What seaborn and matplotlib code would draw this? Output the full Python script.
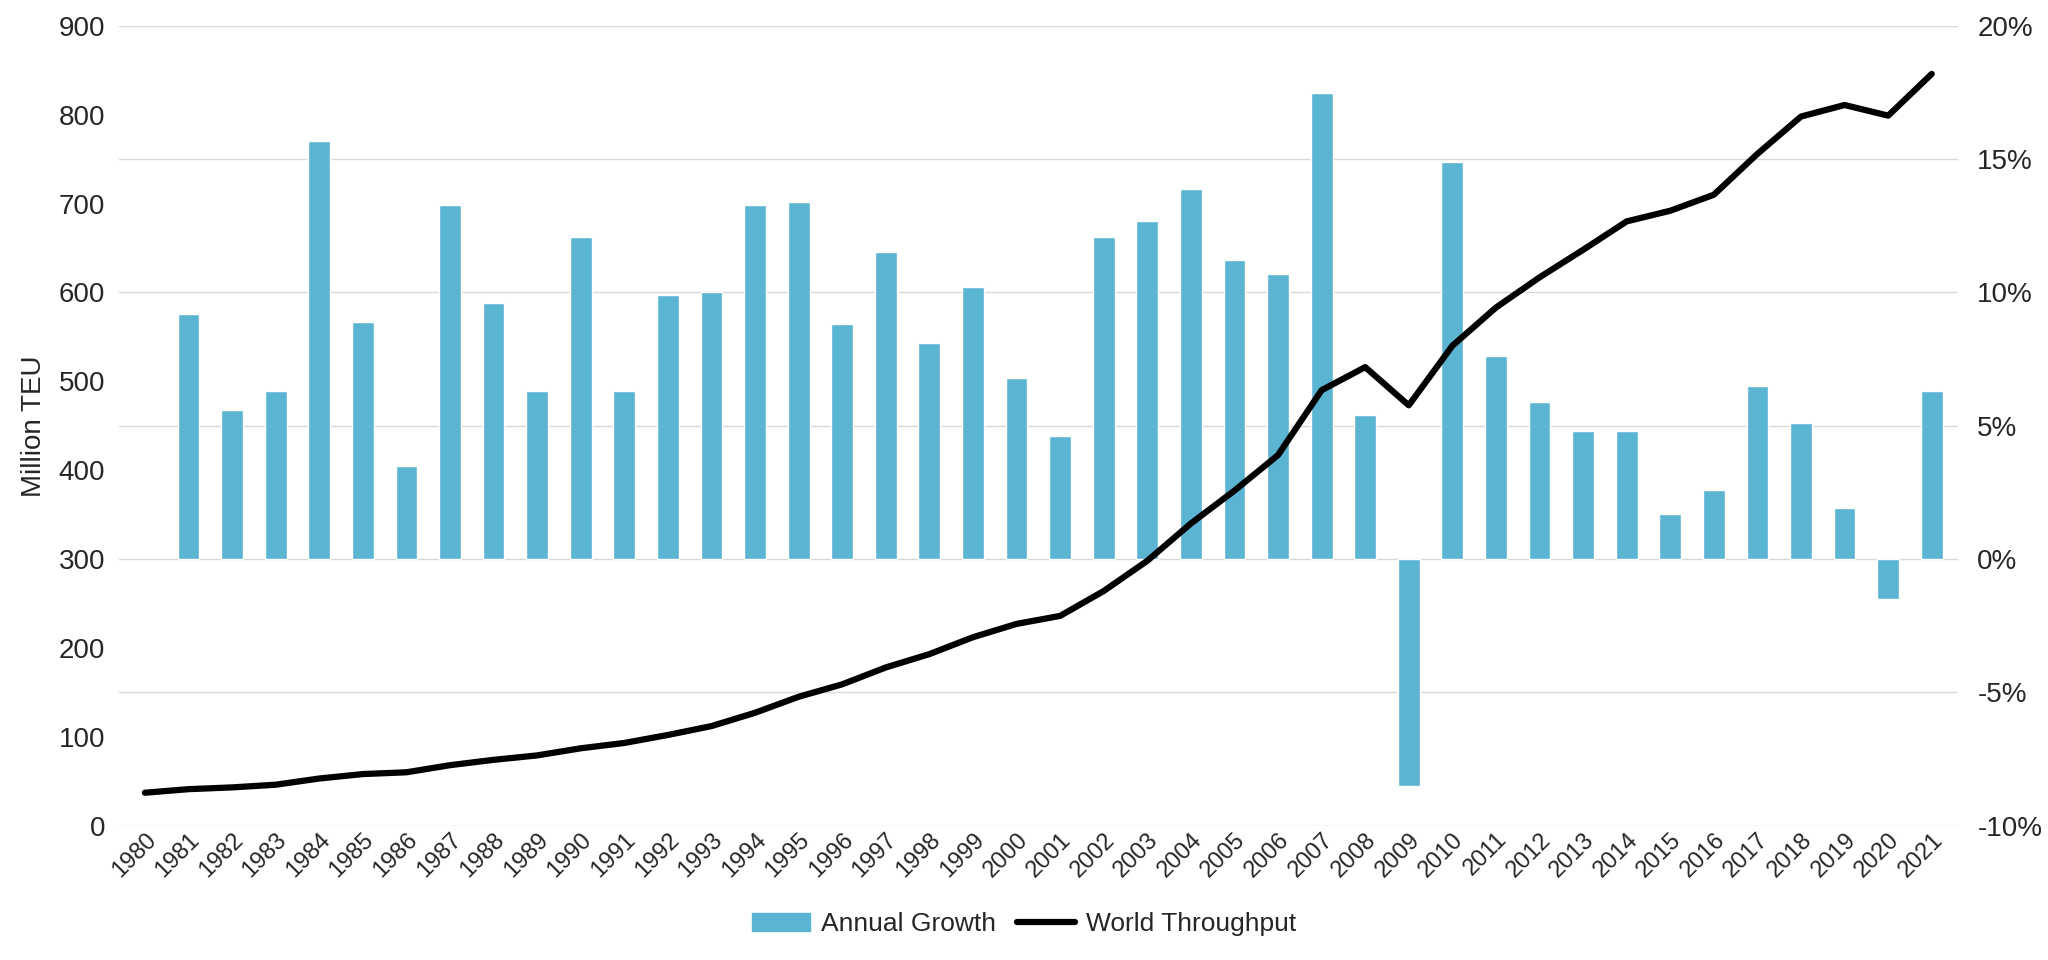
import matplotlib
matplotlib.use("Agg")
import matplotlib.pyplot as plt
import seaborn as sns
import numpy as np
import pandas as pd
from matplotlib.ticker import FuncFormatter
from matplotlib.patches import Patch
from matplotlib.lines import Line2D

years = list(range(1980, 2022))
growth = [np.nan, 9.2, 5.6, 6.3, 15.7, 8.9, 3.5, 13.3, 9.6, 6.3, 12.1, 6.3, 9.9, 10.0, 13.3, 13.4,
          8.8, 11.5, 8.1, 10.2, 6.8, 4.6, 12.1, 12.7, 13.9, 11.2, 10.7, 17.5, 5.4, -8.5, 14.9,
          7.6, 5.9, 4.8, 4.8, 1.7, 2.6, 6.5, 5.1, 1.9, -1.5, 6.3]
throughput = [37, 41, 43, 46, 53, 58, 60, 68, 74, 79, 87, 93, 102, 112, 127, 145, 159, 178, 193,
              212, 227, 236, 264, 298, 340, 377, 417, 490, 516, 473, 540, 583, 617, 648, 680,
              692, 710, 756, 798, 811, 799, 846]

df = pd.DataFrame({"year": [str(y) for y in years], "growth": growth, "tp": throughput})
df["pos"] = np.arange(len(df))

sns.set_style("white")
plt.rcParams['font.family'] = ['Liberation Sans', 'DejaVu Sans']

fig = plt.figure(figsize=(20.48, 9.6), dpi=100)
ax = fig.add_axes([0.058, 0.14, 0.898, 0.833])  # growth axis (right ticks)
bar_color = "#5BB4D1"
sns.barplot(data=df, x="year", y="growth", color=bar_color, width=0.5, ax=ax, saturation=1)
ax2 = ax.twinx()

ax.set_ylim(-10, 20)
ax.yaxis.tick_right()
ax.set_yticks(np.arange(-10, 21, 5))
ax.yaxis.set_major_formatter(FuncFormatter(lambda v, p: f"{int(v)}%"))
ax.set_ylabel("")
ax.set_xlabel("")
ax.grid(axis="y", color="#d9d9d9", linewidth=1)
ax.set_axisbelow(True)
for s in ax.spines.values():
    s.set_visible(False)
ax.tick_params(axis="y", labelsize=20, length=0, pad=14)
ax.tick_params(axis="x", labelsize=17, length=0, rotation=45, pad=2)
for lab in ax.get_xticklabels():
    lab.set_ha("right")
    lab.set_rotation_mode("anchor")

ax2.yaxis.tick_left()
ax2.yaxis.set_label_position("left")
ax2.plot(df["pos"], df["tp"], color="black", linewidth=4.5, solid_capstyle="round")
ax2.set_ylim(0, 900)
ax2.set_yticks(np.arange(0, 901, 100))
ax2.set_ylabel("Million TEU", fontsize=20, labelpad=8)
ax2.tick_params(axis="y", labelsize=20, length=0, pad=10)
for s in ax2.spines.values():
    s.set_visible(False)
ax.set_xlim(-0.6, len(df) - 0.4)

handles = [Patch(color=bar_color, label="Annual Growth"),
           Line2D([0], [0], color="black", linewidth=4.5, label="World Throughput")]
fig.legend(handles=handles, loc="lower center", ncol=2, frameon=False, fontsize=19,
           bbox_to_anchor=(0.5, 0.0), handlelength=2.2, columnspacing=0.8, handletextpad=0.4)

fig.savefig("out.png", dpi=100)
